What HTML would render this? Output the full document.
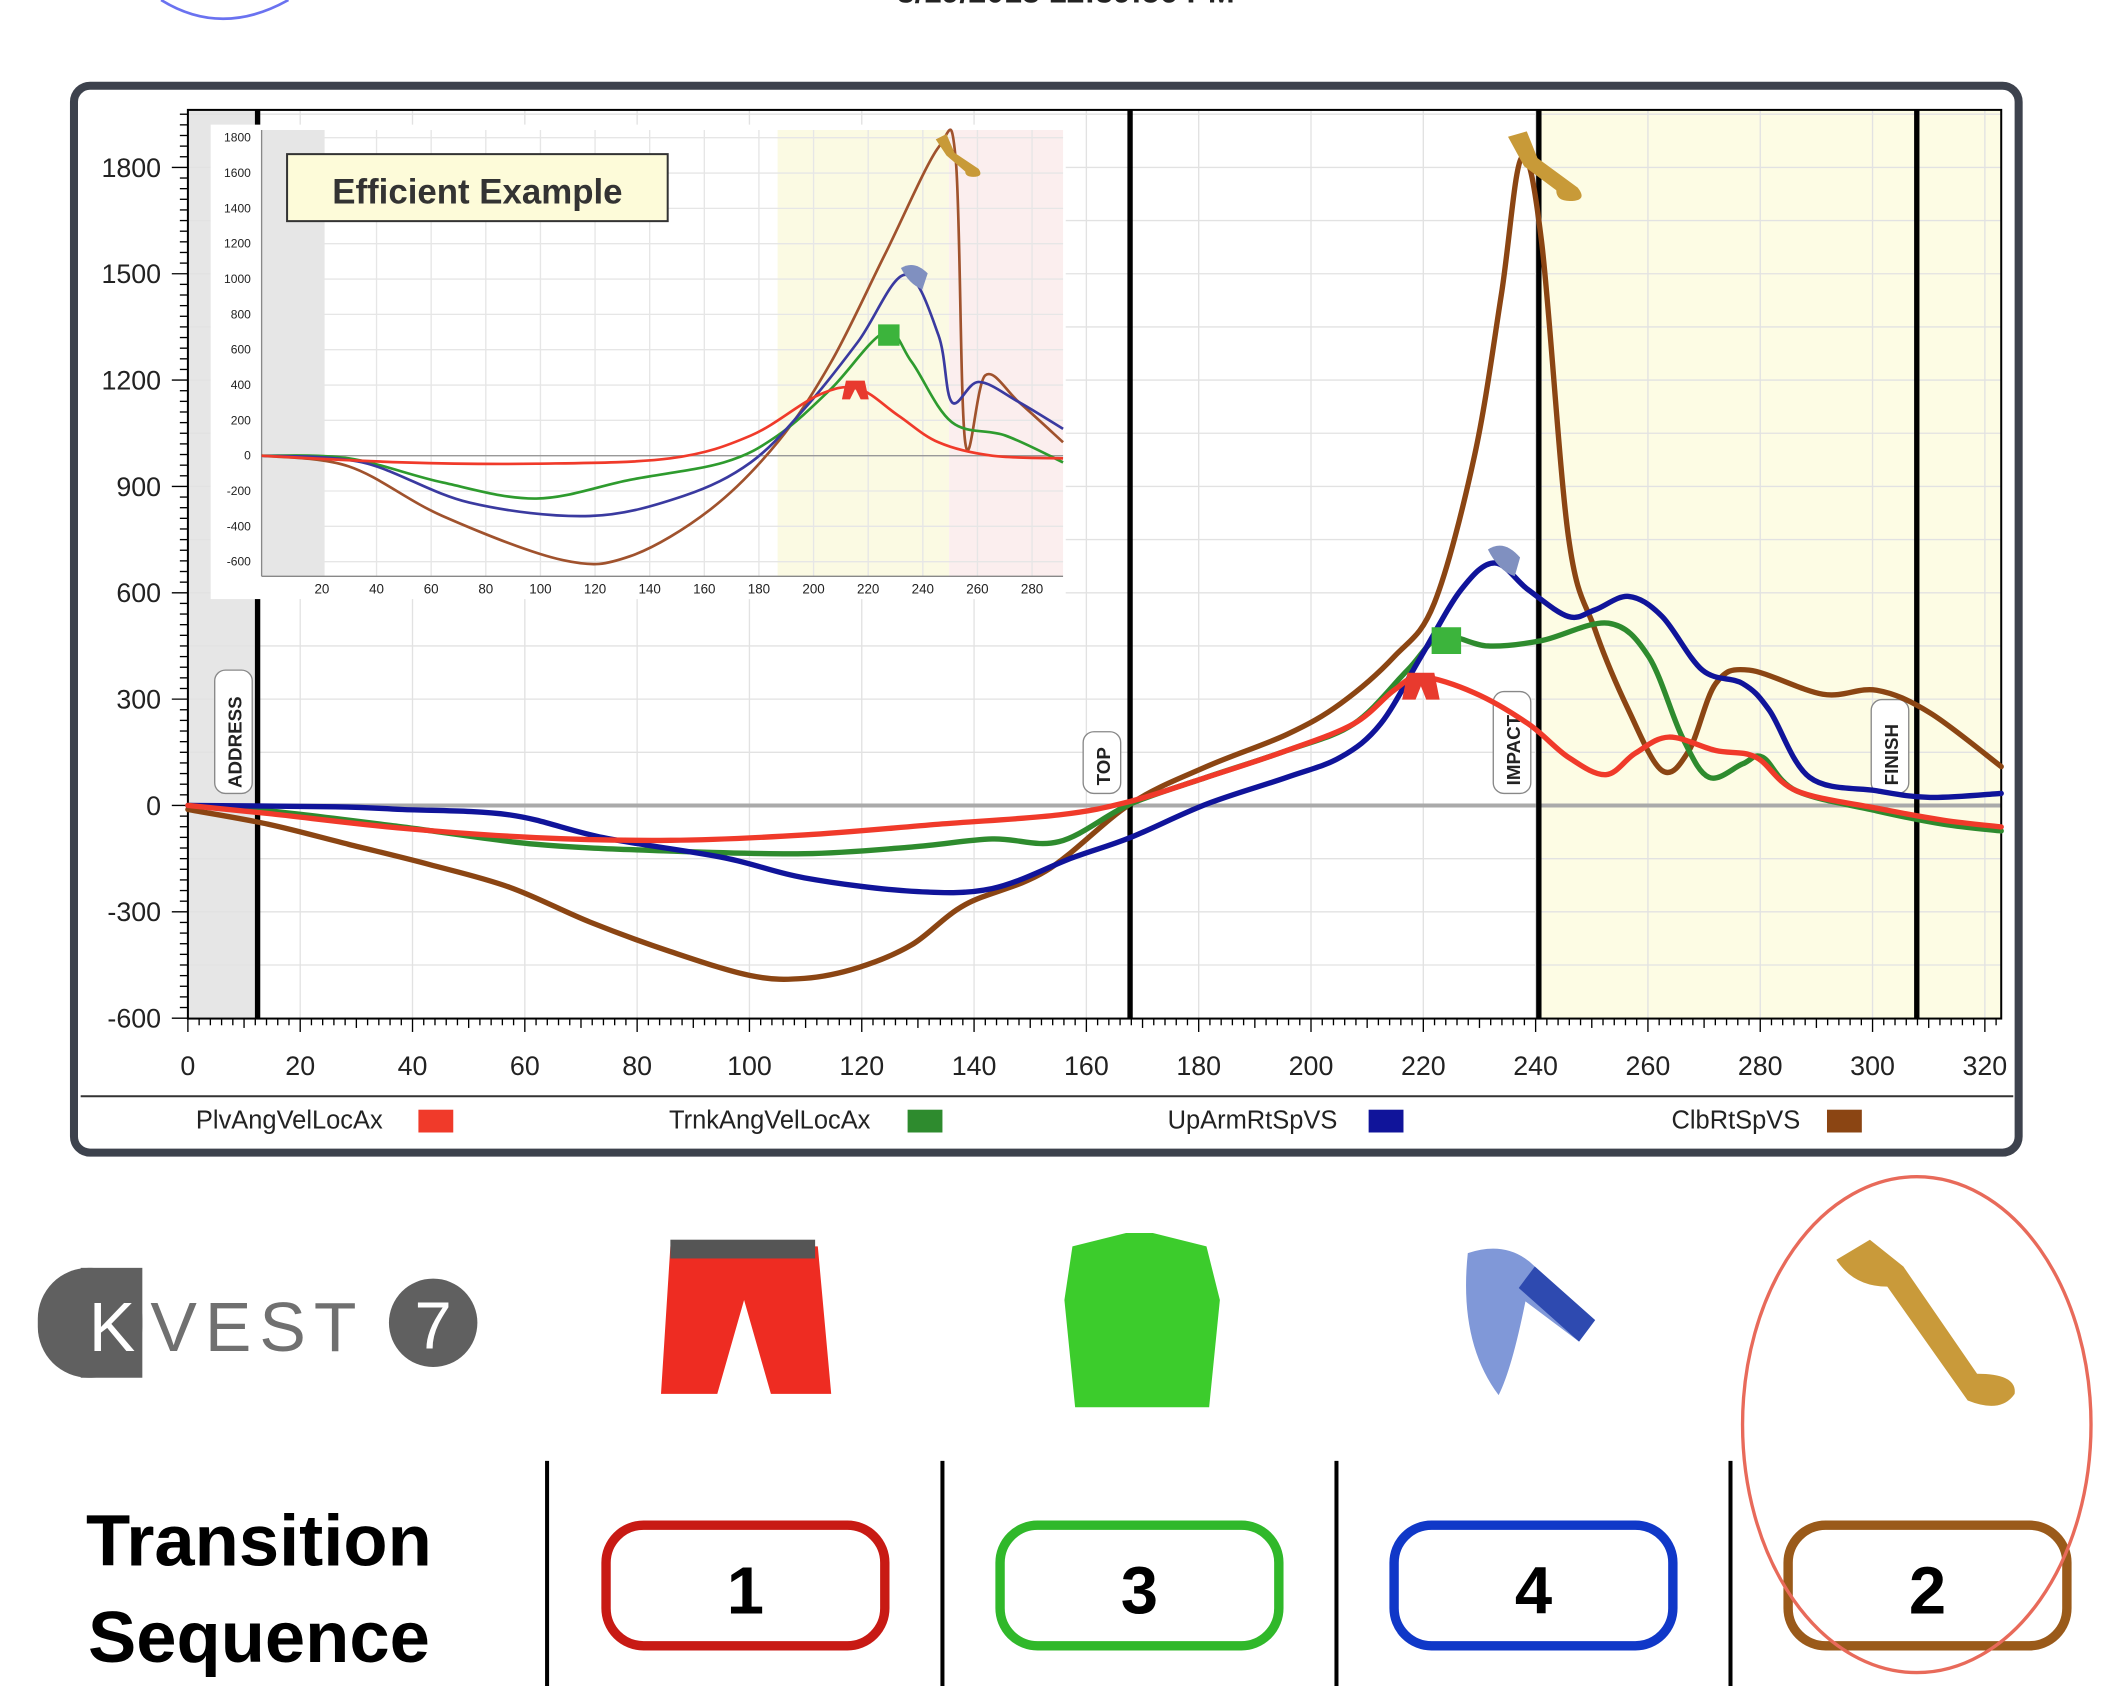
<!DOCTYPE html>
<html><head><meta charset="utf-8"><style>
html,body{margin:0;padding:0;background:#fff;width:2102px;height:1686px;overflow:hidden}
svg{display:block}
text{font-family:"Liberation Sans",sans-serif}
</style></head><body>
<svg id="s" width="2102" height="1686" viewBox="0 0 1568 1258" xmlns="http://www.w3.org/2000/svg">
<path d="M120,0 Q165,28 215,0" fill="none" stroke="#6a72f0" stroke-width="2"/>
<text x="795" y="2" font-size="24" font-weight="bold" text-anchor="middle" fill="#222">3/19/2018 12:39:56 PM</text>
<rect x="55" y="64" width="1451" height="796" rx="12" fill="#fff" stroke="#3d424d" stroke-width="6"/>
<rect x="140" y="82" width="52" height="678" fill="#e6e6e6"/>
<rect x="1148" y="82" width="345" height="678" fill="#fdfce4"/>
<g id="grid"></g>
<line x1="140" y1="601" x2="1493" y2="601" stroke="#aaa" stroke-width="3"/>
<rect x="140" y="82" width="1353" height="678" fill="none" stroke="#000" stroke-width="1.5"/>
<g id="ticks"></g>
<g stroke="#000" stroke-width="4">
<line x1="192" y1="82" x2="192" y2="760"/><line x1="843" y1="82" x2="843" y2="760"/>
<line x1="1148" y1="82" x2="1148" y2="760"/><line x1="1430" y1="82" x2="1430" y2="760"/>
</g>
<g font-size="14" font-weight="bold" fill="#222">
<rect x="160" y="500" width="28" height="92" rx="8" fill="#fff" stroke="#888"/>
<text transform="translate(180,588) rotate(-90)">ADDRESS</text>
<rect x="808" y="546" width="28" height="46" rx="8" fill="#fff" stroke="#888"/>
<text transform="translate(828,586) rotate(-90)">TOP</text>
<rect x="1114" y="516" width="28" height="76" rx="8" fill="#fff" stroke="#888"/>
<text transform="translate(1134,586) rotate(-90)">IMPACT</text>
<rect x="1396" y="522" width="28" height="70" rx="8" fill="#fff" stroke="#888"/>
<text transform="translate(1416,586) rotate(-90)">FINISH</text>
</g>
<g id="main" fill="none" stroke-width="4" stroke-linejoin="round" stroke-linecap="round"></g>
<path d="M1046,522 l4,-20 h20 l4,20 h-10 l-4,-10 l-4,10z" fill="#e83a2e"/>
<path d="M1068,468 h22 v20 h-22z" fill="#3cb43c"/>
<path d="M1110,410 q12,-8 24,6 l-4,14 q-12,-4 -20,-20z" fill="#8090c0"/>
<path d="M1125,102 l14,-4 l8,20 l30,22 q8,10 -6,10 q-10,0 -10,-8 l-24,-18z" fill="#c89a38"/>
<rect x="157" y="93" width="638" height="354" fill="#fff"/>
<rect x="195" y="97" width="47" height="333" fill="#e6e6e6"/>
<rect x="580" y="97" width="128" height="333" fill="#fbfae3"/>
<rect x="708" y="97" width="85" height="333" fill="#fbeeee"/>
<g id="igrid"></g>
<line x1="195" y1="340" x2="793" y2="340" stroke="#999" stroke-width="1"/>
<line x1="195" y1="97" x2="195" y2="430" stroke="#888" stroke-width="1"/>
<line x1="195" y1="430" x2="793" y2="430" stroke="#888" stroke-width="1"/>
<g id="inset" fill="none" stroke-width="2" stroke-linejoin="round"></g>
<path d="M628,298 l3,-14 h14 l3,14 h-6 l-4,-8 l-4,8z" fill="#e83a2e"/>
<path d="M655,242 h16 v16 h-16z" fill="#3cb43c"/>
<path d="M672,200 q10,-6 20,4 l-4,12 q-10,-4 -16,-16z" fill="#8090c0"/>
<path d="M698,104 l8,-4 l6,14 l18,12 q4,6 -4,6 q-6,0 -6,-4 l-14,-12z" fill="#c89a38"/>
<rect x="214" y="115" width="284" height="50" fill="#fdfbd9" stroke="#333" stroke-width="1.5"/>
<text x="356" y="152" font-size="26" font-weight="bold" text-anchor="middle" fill="#333">Efficient Example</text>
<line x1="60" y1="818" x2="1502" y2="818" stroke="#333" stroke-width="1.5"/>
<g font-size="19" fill="#222">
<text x="146" y="842">PlvAngVelLocAx</text><rect x="312" y="828" width="26" height="17" fill="#f03a2a"/>
<text x="499" y="842">TrnkAngVelLocAx</text><rect x="677" y="828" width="26" height="17" fill="#2e8b2e"/>
<text x="871" y="842">UpArmRtSpVS</text><rect x="1021" y="828" width="26" height="17" fill="#10149a"/>
<text x="1247" y="842">ClbRtSpVS</text><rect x="1363" y="828" width="26" height="17" fill="#8b4513"/>
</g>
<rect x="28" y="946" width="78" height="82" rx="38" fill="#606060"/>
<rect x="60" y="946" width="46" height="82" fill="#606060"/>
<text x="66" y="1008" font-size="52" fill="#fff">K</text>
<text x="112" y="1008" font-size="52" fill="#707070" letter-spacing="6">VEST</text>
<circle cx="323" cy="987" r="33" fill="#606060"/>
<text x="323" y="1006" font-size="50" fill="#fff" text-anchor="middle">7</text>
<path d="M500,930 h110 l10,110 h-45 l-20,-70 l-20,70 h-42z" fill="#ee2c22"/>
<rect x="500" y="925" width="108" height="14" fill="#555"/>
<path d="M800,930 l40,-10 h20 l40,10 l10,40 l-8,80 h-100 l-8,-80z" fill="#3ccc2c"/>
<path d="M1095,935 q30,-10 50,10 l45,40 l-12,16 l-40,-30 q-10,50 -20,70 q-30,-40 -23,-106z" fill="#8098d8"/>
<path d="M1145,945 l45,40 l-12,16 l-45,-40z" fill="#2e4ab0"/>
<path d="M1370,940 l25,-15 l25,20 l55,80 q30,0 28,15 q-10,15 -35,5 l-60,-85 q-25,0 -38,-20z" fill="#c99a3a"/>
<text x="193" y="1168" font-size="54" font-weight="bold" text-anchor="middle" fill="#000">Transition</text>
<text x="193" y="1240" font-size="54" font-weight="bold" text-anchor="middle" fill="#000">Sequence</text>
<g stroke="#000" stroke-width="3"><line x1="408" y1="1090" x2="408" y2="1258"/><line x1="703" y1="1090" x2="703" y2="1258"/><line x1="997" y1="1090" x2="997" y2="1258"/><line x1="1291" y1="1090" x2="1291" y2="1258"/></g>
<g stroke-width="7" fill="#fff">
<rect x="452" y="1138" width="208" height="90" rx="28" stroke="#c81a14"/>
<rect x="746" y="1138" width="208" height="90" rx="28" stroke="#30b82a"/>
<rect x="1040" y="1138" width="208" height="90" rx="28" stroke="#1038c8"/>
<rect x="1334" y="1138" width="208" height="90" rx="28" stroke="#9a5a1a"/>
</g>
<g font-size="50" font-weight="bold" text-anchor="middle" fill="#000">
<text x="556" y="1204">1</text><text x="850" y="1204">3</text><text x="1144" y="1204">4</text><text x="1438" y="1204">2</text>
</g>
<ellipse cx="1430" cy="1063" rx="130" ry="185" fill="none" stroke="#e86a5a" stroke-width="2.5"/>
</svg>
<script>
var NS="http://www.w3.org/2000/svg";
function el(p,t,a){var e=document.createElementNS(NS,t);for(var k in a)e.setAttribute(k,a[k]);p.appendChild(e);return e;}
function cr(pts){var d="M"+pts[0][0]+","+pts[0][1];for(var i=0;i<pts.length-1;i++){var p0=pts[i-1]||pts[i],p1=pts[i],p2=pts[i+1],p3=pts[i+2]||p2;
d+=" C"+(p1[0]+(p2[0]-p0[0])/6)+","+(p1[1]+(p2[1]-p0[1])/6)+" "+(p2[0]-(p3[0]-p1[0])/6)+","+(p2[1]-(p3[1]-p1[1])/6)+" "+p2[0]+","+p2[1];}return d;}
var g=document.getElementById("grid"),tk=document.getElementById("ticks");
function X(t){return 140+t*4.19;} function Y(v){return 601-v*0.2645;}
for(var t=20;t<=320;t+=20)el(g,"line",{x1:X(t),y1:82,x2:X(t),y2:760,stroke:"#e2e2e2","stroke-width":1});
for(var v=-450;v<=1950;v+=150){var y=Y(v);if(y>82&&y<760)el(g,"line",{x1:140,y1:y,x2:1493,y2:y,stroke:"#e2e2e2","stroke-width":1});}
for(var t=0;t<=322;t+=2){var x=X(t);if(x>1493)break;var L=t%20==0?10:(t%10==0?7:5);el(tk,"line",{x1:x,y1:760,x2:x,y2:760+L,stroke:"#000","stroke-width":1});
if(t%20==0){var tx=el(tk,"text",{x:x,y:802,"font-size":20,"text-anchor":"middle",fill:"#222"});tx.textContent=t;}}
for(var v=-600;v<=1950;v+=30){var y=Y(v);if(y<82)break;var L=v%300==0?12:6;el(tk,"line",{x1:140-L,y1:y,x2:140,y2:y,stroke:"#000","stroke-width":1});
if(v%300==0){var tx=el(tk,"text",{x:120,y:y+7,"font-size":20,"text-anchor":"end",fill:"#222"});tx.textContent=v;}}
var m=document.getElementById("main");
var S={"#8b4513":[[140,604],[200,615],[260,630],[320,645],[380,662],[440,688],[500,710],[560,728],[600,730],[640,722],[680,705],[720,675],[780,650],[843,600],[900,572],[960,548],[1000,525],[1040,490],[1070,450],[1100,340],[1120,220],[1135,118],[1150,180],[1170,400],[1190,470],[1215,530],[1240,575],[1260,560],[1280,510],[1305,500],[1360,518],[1400,515],[1440,532],[1493,572]],
"#2e8b2e":[[140,601],[200,605],[300,617],[400,630],[500,635],[600,637],[680,632],[740,626],[790,628],[843,600],[900,580],[960,560],[1010,540],[1050,500],[1075,475],[1110,482],[1150,478],[1200,465],[1230,490],[1255,550],[1275,580],[1300,570],[1315,565],[1340,590],[1400,605],[1450,615],[1493,620]],
"#10149a":[[140,601],[250,602],[300,604],[380,608],[450,625],[540,640],[600,655],[680,665],[740,663],[800,640],[843,625],[900,600],[960,580],[1000,565],[1030,540],[1060,490],[1090,440],[1115,420],[1140,440],[1170,460],[1190,455],[1215,445],[1240,460],[1270,500],[1300,510],[1320,530],[1350,580],[1400,590],[1440,595],[1493,592]],
"#f03a2a":[[140,601],[200,607],[300,618],[400,625],[500,627],[600,623],[700,615],[790,608],[843,598],[900,580],[960,560],[1010,540],[1040,515],[1060,505],[1100,517],[1140,540],[1170,565],[1198,578],[1220,562],[1245,550],[1280,560],[1310,565],[1340,590],[1400,603],[1450,612],[1493,617]]};
for(var c in S)el(m,"path",{d:cr(S[c]),stroke:c});
var ig=document.getElementById("igrid");
for(var t=20;t<=280;t+=20){var x=240+(t-20)*2.038;el(ig,"line",{x1:x,y1:97,x2:x,y2:430,stroke:"#e6e6e6"});var tx=el(ig,"text",{x:x,y:443,"font-size":10,"text-anchor":"middle",fill:"#222"});tx.textContent=t;}
for(var v=-600;v<=1800;v+=200){var y=340-v*0.1318;el(ig,"line",{x1:195,y1:y,x2:793,y2:y,stroke:"#e6e6e6"});var tx=el(ig,"text",{x:187,y:y+3,"font-size":9,"text-anchor":"end",fill:"#222"});tx.textContent=v;}
var I={"#a0522d":[[195,340],[260,348],[330,385],[420,418],[470,415],[530,380],[580,330],[620,270],[660,190],[700,110],[713,120],[720,330],[735,280],[760,300],[793,330]],
"#2e9b2e":[[195,340],[260,342],[330,360],[400,372],[470,358],[540,345],[580,325],[620,290],[660,248],[680,270],[710,315],[750,325],[793,345]],
"#3a3aa0":[[195,340],[270,345],[350,375],[440,385],[510,370],[560,345],[600,305],[640,255],[675,205],[700,250],[710,300],[730,285],[760,300],[793,320]],
"#f03a2a":[[195,340],[300,345],[400,346],[500,342],[560,325],[610,295],[640,290],[670,310],[700,330],[740,340],[793,342]]};
var ii=document.getElementById("inset");for(var c in I)el(ii,"path",{d:cr(I[c]),stroke:c});
</script>
</body></html>
